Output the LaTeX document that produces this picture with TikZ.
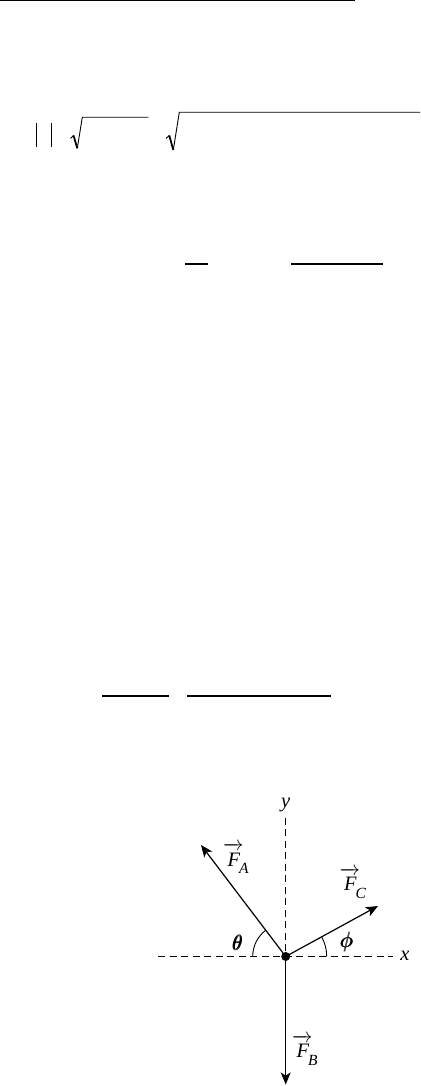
\documentclass[tikz,border=0pt]{standalone}
\usepackage{fix-cm}
\usepackage{amsmath}
\usepackage{fontspec}
\setmainfont{Liberation Serif}
\usetikzlibrary{arrows.meta}
\newcommand{\vF}[1]{\mbox{\itshape F}\llap{\raisebox{0.12em}{$\overrightarrow{\phantom{\mbox{\itshape F}}}$}\kern-0.17em}\kern-0.05em\raisebox{-0.36em}{\fontsize{15.5}{16}\selectfont\itshape #1}}
\tikzset{
  axisline/.style={line width=1.1pt, dash pattern=on 7pt off 4.5pt},
  force/.style={line width=1.2pt, -{Stealth[length=12pt,width=10pt,inset=3pt]}},
  rule/.style={line width=1.3pt},
  anglearc/.style={line width=0.9pt},
  lbl/.style={font=\fontsize{20.5}{22}\selectfont, inner sep=0pt},
}
\begin{document}
\begin{tikzpicture}[x=1pt,y=1pt]
\useasboundingbox (0,0) rectangle (420,1086);
% top rule and remnants of equations
\draw[rule] (0,1085.4) -- (355,1085.4);
\draw[line width=1pt] (36,963) -- (36,939);
\draw[line width=1pt] (51.7,963) -- (51.7,939);
\draw[line width=0.9pt] (70.5,947.5) -- (73.5,950.5);
\draw[line width=1.8pt] (73.5,950.5) -- (77.3,937.7);
\draw[line width=0.9pt] (77.3,937.7) -- (82.3,968.7) -- (148.3,968.7);
\draw[line width=0.9pt] (166,947.5) -- (169.3,950.5);
\draw[line width=1.8pt] (169.3,950.5) -- (173.3,936);
\draw[line width=0.9pt] (173.3,936) -- (179.3,973.7) -- (420,973.7);
\draw[rule] (185,822) -- (208,822);
\draw[rule] (291,822) -- (383,822);
\draw[rule] (102,390) -- (169,390);
\draw[rule] (187,390) -- (331,390);
% force diagram
\node[circle, fill=black, minimum size=9pt, inner sep=0pt] (O) at (285.7,129.5) {};
\coordinate (xl) at (158,129.5);
\coordinate (xr) at (393,129.5);
\coordinate (yt) at (285.7,268);
\coordinate (A) at (201,241);
\coordinate (C) at (378,180);
\coordinate (B) at (285.7,1.5);
\draw[axisline] (xl) -- (xr);
\draw[axisline] (yt) -- (O.center);
\draw[force] (O.center) -- (A);
\draw[force] (O.center) -- (C);
\draw[force] (O.center) -- (B);
\draw[anglearc] ([shift={(180:33)}]O.center) arc[start angle=180, end angle=127.2, radius=33];
\draw[anglearc] ([shift={(0:41)}]O.center) arc[start angle=0, end angle=28.7, radius=41];
\node[lbl] (ylab) at (285.7,281) {\itshape y};
\node[lbl] (xlab) at (405,130) {\itshape x};
\node[lbl] (FA) at (238,228) {\vF{A}};
\node[lbl] (FC) at (355,203) {\vF{C}};
\node[lbl] (FB) at (307,36) {\vF{B}};
\node[lbl] (th) at (238,143) {\fontsize{21}{22}\selectfont$\pmb{\theta}$};
\node[lbl] (ph) at (347,144) {\fontsize{22}{22}\selectfont$\pmb{\phi}$};
\end{tikzpicture}
\end{document}
